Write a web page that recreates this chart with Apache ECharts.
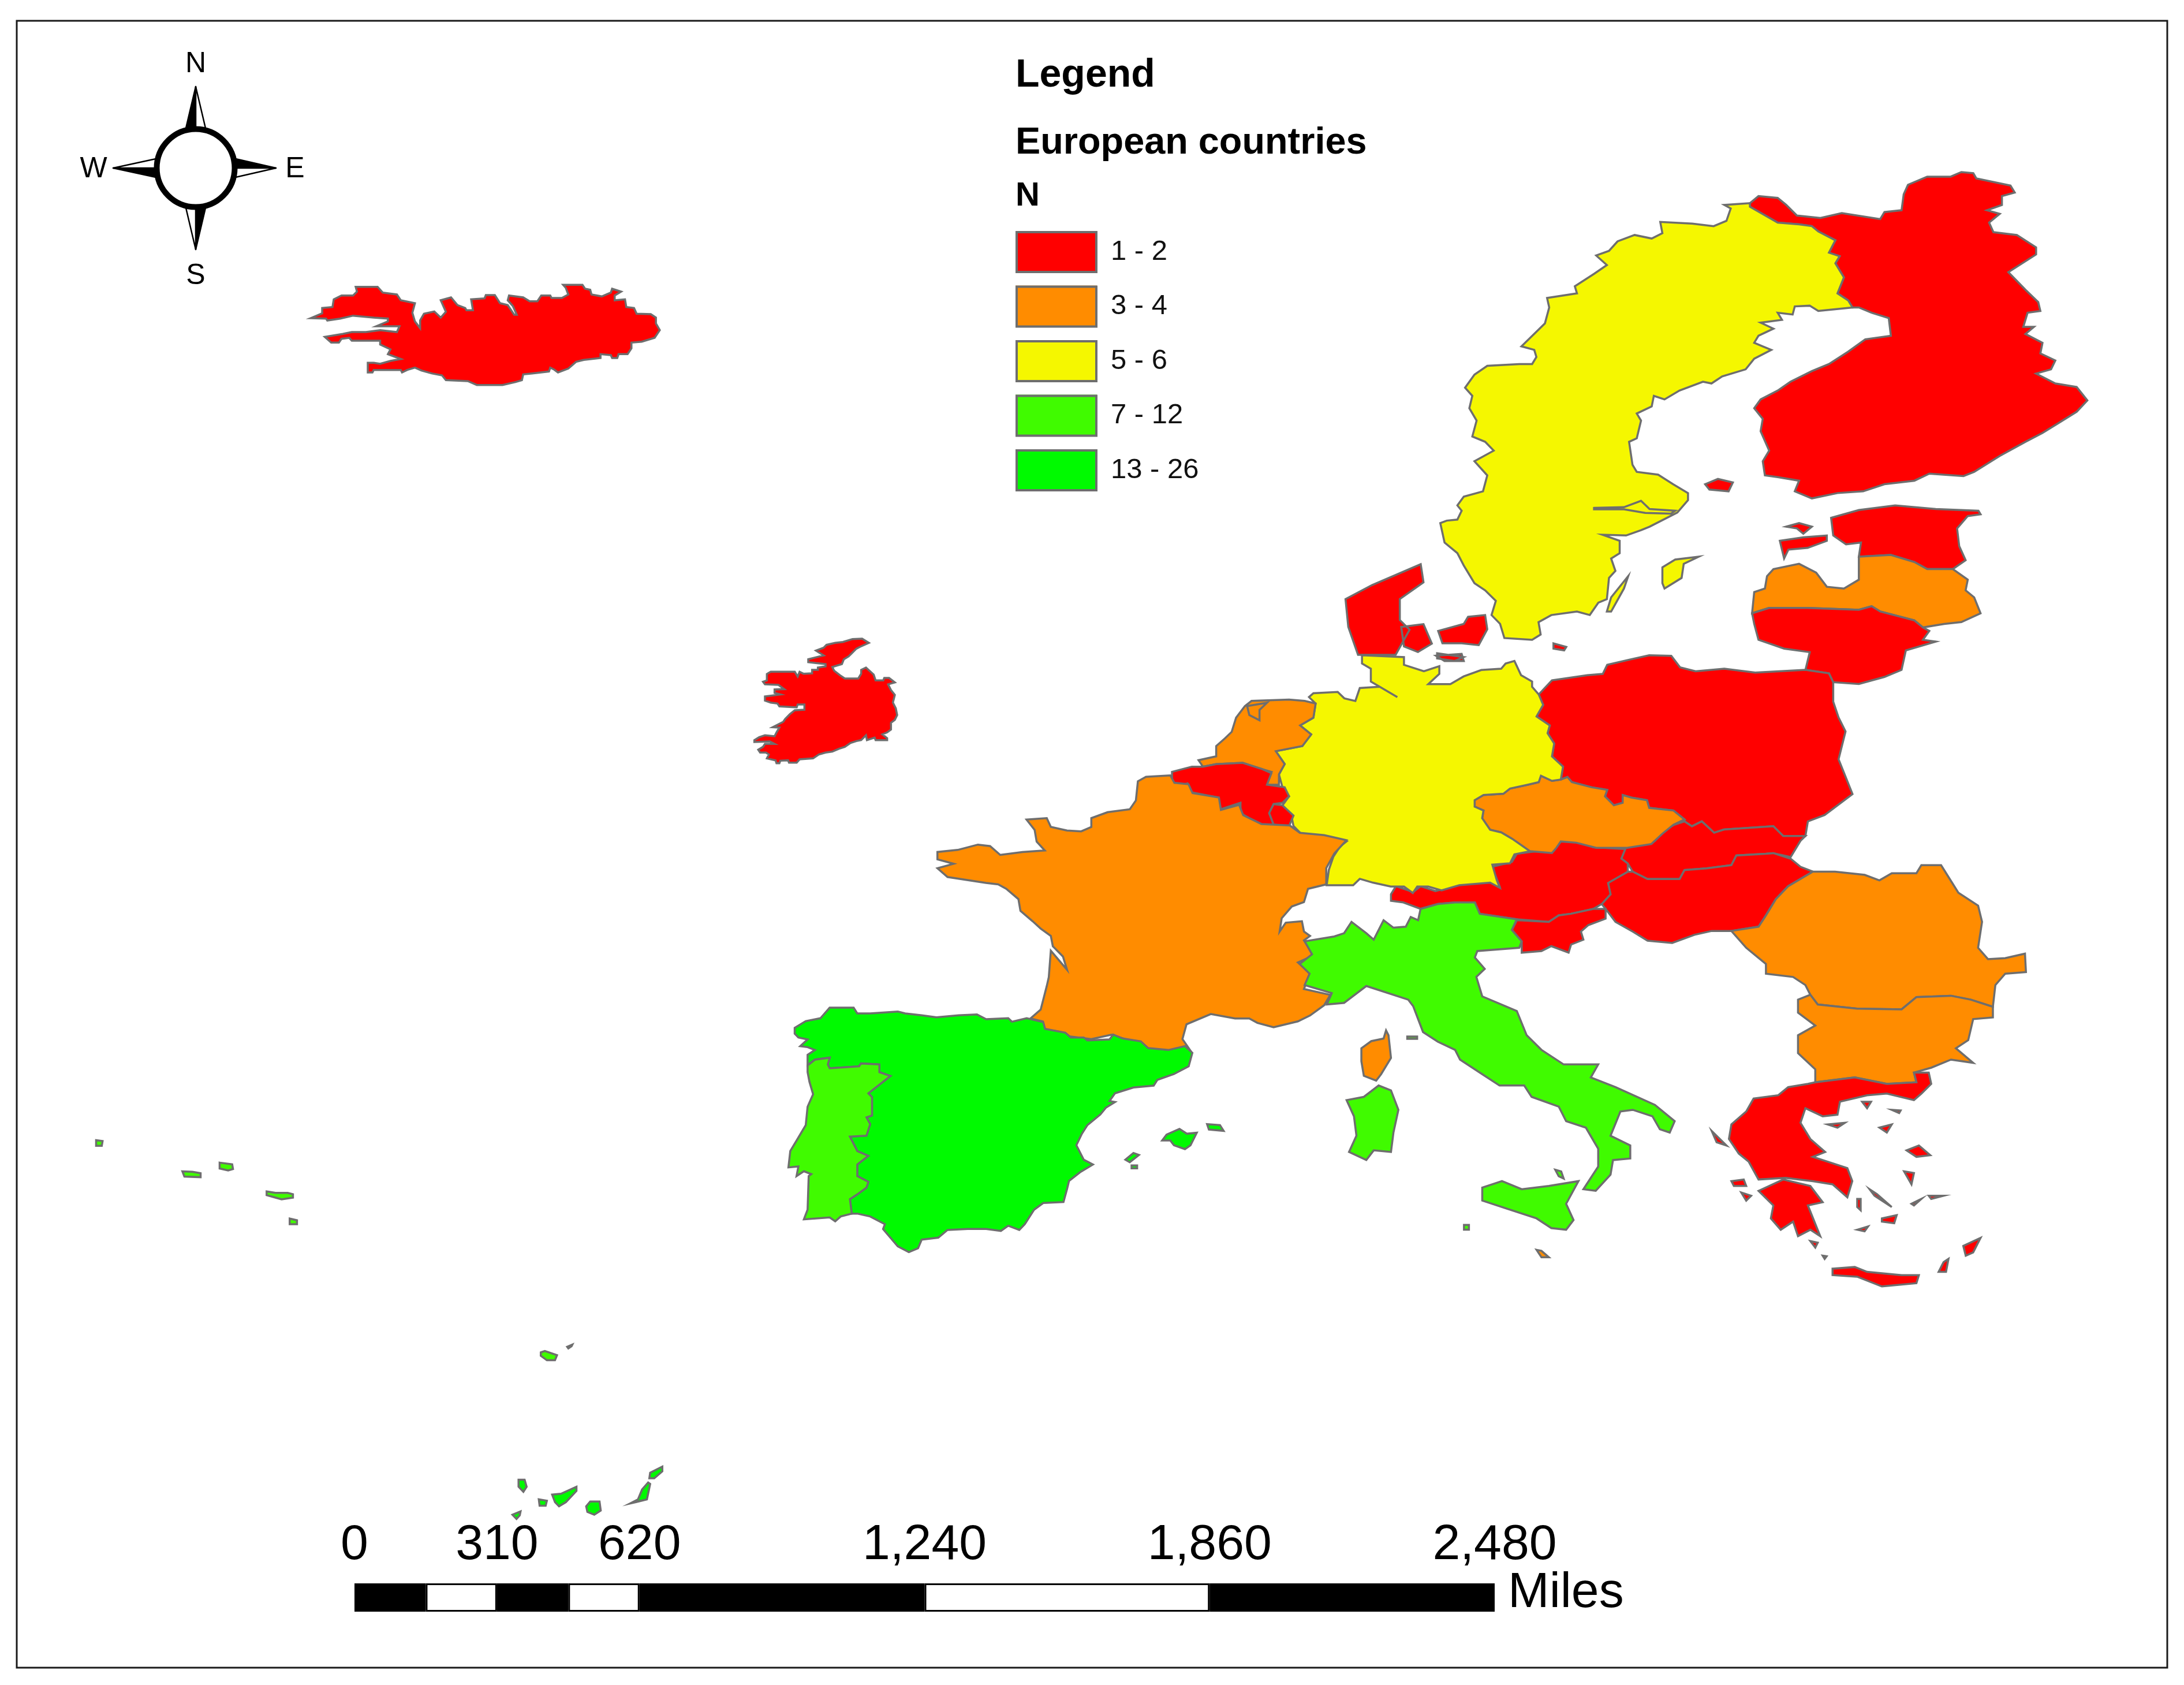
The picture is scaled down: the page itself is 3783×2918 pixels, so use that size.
<!DOCTYPE html>
<html lang="en">

<head>
    <meta charset="UTF-8">
    <title>European countries</title>
    <style>
        html, body { margin: 0; padding: 0; background: #fff; }
        #box { width: 3783px; height: 2918px; }
    </style>
    <script src="https://cdn.jsdelivr.net/npm/echarts@6/dist/echarts.min.js"></script>
</head>

<body>
    <div id="box"></div>
    <script>
        const countries = ['Iceland', 'Ireland', 'Finland', 'Sweden', 'Estonia', 'Latvia', 'Lithuania', 'Poland', 'Slovakia',
            'Hungary', 'Austria', 'Slovenia', 'Czech Republic', 'Germany', 'Netherlands', 'Belgium', 'Luxembourg', 'France',
            'Spain', 'Portugal', 'Italy', 'Romania', 'Bulgaria', 'Greece', 'Denmark', 'Malta'];
        const nValues = [1, 1, 2, 5, 1, 3, 1, 2, 1, 2, 2, 1, 3, 6, 3, 2, 1, 4, 20, 9, 10, 4, 3, 2, 2, 3];

        // legend classes
        const classLabels = ['1 - 2', '3 - 4', '5 - 6', '7 - 12', '13 - 26'];
        const classMin = [1, 3, 5, 7, 13];
        const classMax = [2, 4, 6, 12, 26];
        const classColors = ['#ff0000', '#ff8c00', '#f5f700', '#40fb00', '#00fa00'];

        // scale bar, miles
        const scaleSegments = [155, 155, 155, 155, 620, 620, 620];
        const scaleTicks = [0, 310, 620, 1240, 1860, 2480];

        // outlines were traced on crops of the picture, each crop has its own grid
        function crop(x, y, w, h, pts) {
            const sx = Math.min(3, 1568 / w), sy = Math.min(3, 1568 / h);
            return pts.map(p => [x + p[0] / sx, y + p[1] / sy]);
        }
        const ice = p => crop(500, 450, 700, 240, p);
        const ire = p => crop(1270, 1080, 320, 280, p);
        const nor = p => crop(2480, 260, 1160, 960, p);
        const mid = p => crop(1900, 1100, 1200, 700, p);
        const wes = p => crop(1280, 1080, 1100, 800, p);
        const ibe = p => crop(1300, 1700, 1000, 520, p);
        const sou = p => crop(2200, 1400, 1340, 880, p);
        const atl = p => crop(130, 1930, 1100, 760, p);
        const whole = p => p.map(q => [q[0] * 3783 / 1568, q[1] * 3783 / 1568]);

        const outlines = {
            'Iceland': [ice([[85, 303], [130, 278], [130, 250], [170, 245], [175, 205], [205, 185], [250, 185], [265, 165], [260, 140], [345, 140], [365, 170], [420, 180], [435, 210], [490, 225], [480, 275], [490, 320], [510, 355], [510, 315], [525, 280], [565, 268], [590, 300], [610, 270], [590, 210], [630, 195], [655, 235], [685, 250], [690, 262], [715, 262], [708, 205], [760, 200], [765, 183], [800, 183], [820, 225], [850, 235], [875, 285], [885, 285], [870, 240], [850, 210], [855, 185], [910, 195], [935, 215], [965, 215], [980, 185], [1015, 185], [1020, 198], [1060, 198], [1085, 180], [1075, 145], [1065, 130], [1140, 130], [1150, 150], [1170, 155], [1175, 180], [1215, 190], [1250, 170], [1255, 150], [1290, 165], [1265, 185], [1265, 210], [1305, 205], [1310, 245], [1340, 250], [1350, 280], [1405, 282], [1425, 300], [1425, 330], [1440, 365], [1420, 405], [1370, 425], [1330, 430], [1330, 460], [1315, 490], [1280, 490], [1275, 510], [1255, 510], [1250, 495], [1210, 490], [1210, 510], [1145, 520], [1115, 530], [1085, 565], [1045, 585], [1030, 570], [1015, 560], [1010, 580], [945, 590], [910, 595], [905, 625], [880, 635], [830, 650], [730, 650], [695, 630], [610, 625], [595, 600], [555, 590], [515, 575], [490, 560], [460, 572], [440, 585], [435, 572], [330, 572], [325, 585], [307, 585], [307, 535], [330, 535], [355, 540], [395, 525], [435, 515], [395, 495], [385, 490], [395, 465], [355, 440], [355, 420], [340, 420], [245, 420], [235, 405], [205, 410], [195, 430], [165, 430], [140, 400], [210, 385], [245, 375], [300, 375], [355, 365], [420, 375], [430, 345], [340, 345], [385, 320], [385, 305], [330, 300], [250, 290], [200, 305], [150, 315], [145, 305]])],
            'Ireland': [ire([[110, 605], [135, 590], [165, 580], [215, 585], [225, 565], [240, 540], [205, 538], [260, 510], [270, 495], [295, 470], [320, 450], [370, 447], [370, 420], [335, 420], [330, 435], [240, 430], [230, 415], [195, 410], [165, 400], [165, 378], [245, 368], [215, 360], [215, 342], [265, 340], [235, 318], [165, 315], [155, 302], [175, 295], [175, 262], [195, 250], [320, 250], [335, 275], [345, 250], [365, 260], [410, 258], [410, 240], [440, 240], [440, 228], [480, 222], [480, 210], [430, 205], [390, 200], [390, 185], [450, 170], [470, 165], [430, 140], [470, 125], [485, 110], [530, 100], [570, 95], [620, 80], [670, 78], [705, 100], [660, 120], [640, 130], [620, 150], [600, 170], [575, 185], [565, 210], [515, 225], [525, 245], [555, 268], [580, 285], [650, 285], [665, 260], [665, 240], [690, 228], [730, 265], [740, 295], [780, 295], [785, 282], [810, 282], [840, 305], [805, 315], [820, 345], [840, 370], [830, 410], [845, 440], [852, 475], [840, 500], [820, 515], [820, 550], [800, 565], [775, 575], [800, 595], [800, 605], [740, 605], [735, 592], [695, 605], [690, 580], [665, 605], [640, 610], [610, 620], [580, 640], [550, 650], [515, 665], [480, 670], [445, 680], [415, 700], [345, 705], [330, 722], [290, 722], [285, 710], [245, 712], [240, 725], [225, 725], [220, 710], [175, 700], [185, 680], [170, 670], [140, 670], [130, 655], [155, 640], [165, 625], [215, 625], [190, 612], [110, 615]])],
            'Finland': [nor([[745, 150], [765, 130], [810, 135], [830, 155], [855, 185], [910, 192], [960, 178], [1050, 195], [1060, 175], [1100, 170], [1105, 125], [1115, 98], [1160, 75], [1215, 75], [1240, 62], [1268, 65], [1275, 80], [1355, 100], [1365, 120], [1335, 130], [1335, 155], [1300, 170], [1330, 180], [1305, 205], [1315, 232], [1370, 240], [1415, 275], [1415, 295], [1350, 345], [1390, 395], [1420, 430], [1425, 455], [1395, 460], [1385, 500], [1410, 500], [1390, 520], [1430, 545], [1425, 575], [1460, 595], [1450, 620], [1415, 632], [1460, 660], [1510, 670], [1535, 708], [1510, 740], [1470, 770], [1430, 800], [1390, 825], [1330, 865], [1270, 910], [1245, 922], [1165, 915], [1130, 935], [1060, 945], [1010, 965], [950, 970], [890, 985], [850, 965], [860, 935], [810, 925], [780, 920], [775, 880], [790, 850], [770, 795], [775, 760], [755, 730], [770, 705], [810, 680], [840, 655], [890, 625], [930, 605], [975, 570], [1015, 535], [1075, 525], [1070, 475], [1030, 460], [1000, 445], [985, 445], [975, 425], [950, 405], [965, 360], [945, 320], [955, 300], [930, 290], [945, 255], [905, 230], [890, 215], [860, 210], [810, 205], [745, 160]]),
                nor([[640, 945], [670, 930], [705, 940], [695, 965], [650, 960]])],
            'Sweden': [nor([[745, 160], [810, 205], [860, 210], [890, 215], [905, 230], [945, 255], [930, 290], [955, 300], [945, 320], [965, 360], [950, 405], [975, 425], [985, 445], [945, 450], [905, 455], [885, 440], [850, 442], [845, 465], [810, 460], [820, 480], [770, 488], [800, 505], [765, 525], [755, 545], [775, 555], [795, 565], [755, 590], [735, 620], [680, 640], [655, 660], [635, 655], [580, 680], [545, 705], [520, 695], [515, 725], [480, 745], [490, 765], [480, 815], [462, 825], [470, 890], [480, 910], [530, 918], [565, 945], [600, 970], [600, 990], [575, 1025], [510, 1065], [490, 1075], [455, 1090], [400, 1088], [440, 1105], [440, 1140], [420, 1155], [430, 1190], [415, 1210], [410, 1270], [390, 1280], [370, 1315], [340, 1305], [280, 1315], [250, 1335], [255, 1370], [235, 1385], [170, 1380], [160, 1340], [140, 1315], [150, 1275], [125, 1245], [100, 1225], [75, 1175], [60, 1140], [30, 1110], [20, 1055], [35, 1048], [60, 1045], [70, 1020], [60, 1005], [75, 980], [120, 965], [130, 920], [100, 880], [145, 850], [125, 825], [95, 810], [105, 765], [88, 730], [95, 695], [78, 672], [100, 635], [130, 610], [205, 605], [235, 605], [245, 585], [240, 565], [210, 555], [265, 490], [275, 445], [270, 418], [340, 405], [335, 385], [380, 350], [410, 325], [385, 298], [415, 285], [435, 258], [475, 240], [515, 250], [540, 235], [535, 203], [610, 208], [660, 215], [690, 200], [700, 165], [685, 155], [745, 150]]),
                nor([[380, 1012], [450, 1010], [490, 992], [510, 1015], [570, 1020], [560, 1028], [500, 1026], [450, 1016], [380, 1016]]),
                nor([[540, 1180], [570, 1158], [625, 1150], [590, 1170], [585, 1210], [545, 1240], [540, 1225]]),
                nor([[410, 1305], [420, 1265], [460, 1205], [450, 1240], [420, 1305]])],
            'Estonia': [nor([[935, 1040], [1000, 1018], [1085, 1005], [1180, 1015], [1280, 1020], [1285, 1030], [1255, 1035], [1230, 1070], [1235, 1120], [1250, 1160], [1220, 1185], [1160, 1185], [1130, 1165], [1075, 1145], [1000, 1150], [1005, 1110], [970, 1115], [940, 1090]]),
                nor([[815, 1105], [870, 1095], [925, 1090], [925, 1105], [880, 1125], [835, 1130], [825, 1155], [820, 1130]]),
                nor([[830, 1065], [860, 1055], [890, 1065], [870, 1085], [855, 1070]])],
            'Latvia': [nor([[750, 1310], [755, 1250], [780, 1240], [785, 1205], [800, 1185], [860, 1170], [900, 1195], [925, 1235], [965, 1240], [1000, 1215], [1000, 1150], [1075, 1145], [1130, 1165], [1160, 1185], [1220, 1185], [1255, 1215], [1250, 1245], [1270, 1265], [1285, 1310], [1240, 1335], [1200, 1340], [1150, 1350], [1130, 1330], [1050, 1305], [1030, 1290], [1000, 1300], [880, 1295], [790, 1295]])],
            'Lithuania': [nor([[750, 1310], [790, 1295], [880, 1295], [1000, 1300], [1030, 1290], [1050, 1305], [1130, 1330], [1150, 1350], [1165, 1360], [1150, 1385], [1180, 1390], [1110, 1415], [1100, 1470], [1060, 1490], [1000, 1510], [940, 1505], [930, 1480], [875, 1470], [885, 1420], [825, 1410], [765, 1385], [755, 1340]])],
            'Poland': [[...mid([[1000, 230], [1030, 175], [1110, 155], [1145, 150], [1155, 115], [1205, 95], [1250, 78], [1300, 80], [1320, 125], [1355, 140], [1420, 130], [1490, 145]]),
                ...nor([[875, 1470], [930, 1480], [940, 1505], [940, 1560]]),
                ...whole([[1320, 515], [1325, 525], [1320, 545], [1330, 570], [1310, 585]]),
                ...sou([[1090, 40], [1085, 85], [1040, 85], [1020, 55], [920, 65], [900, 75], [875, 40], [855, 55], [840, 40]]),
                ...mid([[1330, 715], [1305, 680], [1250, 670], [1245, 640], [1210, 630], [1190, 620], [1190, 650], [1170, 660], [1150, 625], [1155, 600], [1120, 590], [1075, 570], [1065, 550], [1050, 560], [1055, 510], [1030, 470], [1035, 420], [1020, 380], [1025, 350], [995, 315], [1010, 270]])]],
            'Slovakia': [sou([[715, 130], [725, 115], [780, 100], [795, 70], [820, 50], [840, 40], [855, 55], [875, 40], [900, 75], [920, 65], [1020, 55], [1040, 85], [1085, 85], [1075, 100], [1055, 150], [1020, 138], [1005, 140], [945, 145], [935, 175], [885, 185], [840, 190], [830, 218], [765, 218], [735, 195], [725, 170], [712, 155]])],
            'Hungary': [sou([[725, 195], [735, 195], [765, 218], [830, 218], [840, 190], [885, 185], [935, 175], [945, 145], [1005, 140], [1020, 138], [1055, 155], [1075, 180], [1100, 195], [1050, 240], [1025, 280], [1005, 330], [990, 365], [935, 378], [895, 378], [860, 390], [815, 415], [765, 408], [735, 380], [700, 350], [680, 310], [672, 295], [690, 265], [685, 230]])],
            'Austria': [sou([[245, 265], [255, 240], [290, 258], [305, 240], [335, 255], [390, 232], [445, 228], [465, 240], [450, 180], [490, 165], [500, 140], [575, 125], [590, 100], [620, 100], [655, 120], [720, 125], [712, 155], [725, 170], [725, 195], [685, 230], [690, 265], [672, 295], [655, 310], [610, 325], [585, 330], [565, 350], [500, 342], [425, 325], [415, 290], [375, 290], [340, 295], [305, 310], [270, 290], [245, 285]])],
            'Slovenia': [sou([[500, 345], [565, 350], [585, 330], [610, 325], [655, 310], [680, 310], [680, 340], [645, 360], [630, 380], [635, 405], [610, 420], [605, 445], [570, 425], [550, 440], [510, 445], [510, 410], [490, 375]])],
            'Czech Republic': [mid([[855, 640], [875, 620], [920, 615], [935, 595], [975, 580], [1000, 570], [1005, 545], [1030, 565], [1050, 560], [1065, 550], [1075, 570], [1120, 590], [1155, 600], [1150, 625], [1170, 660], [1190, 650], [1190, 620], [1210, 630], [1245, 640], [1250, 670], [1305, 680], [1330, 715], [1305, 735], [1280, 770], [1255, 810], [1200, 825], [1130, 825], [1085, 805], [1050, 800], [1040, 825], [1030, 845], [980, 838], [940, 790], [915, 765], [890, 755], [872, 710], [875, 680], [855, 665]])],
            'Germany': [mid([[600, 78], [695, 85], [695, 115], [740, 140], [775, 120], [775, 150], [750, 190], [800, 190], [830, 160], [870, 135], [915, 130], [925, 110], [945, 100], [960, 155], [985, 180], [985, 200], [1000, 230], [1010, 270], [995, 315], [1025, 350], [1020, 380], [1035, 420], [1030, 470], [1055, 510], [1050, 560], [1030, 565], [1005, 545], [1000, 570], [975, 580], [935, 595], [920, 615], [875, 620], [855, 640], [855, 665], [875, 680], [872, 710], [890, 755], [915, 765], [940, 790], [980, 838], [945, 850], [935, 885], [895, 890], [905, 950], [912, 980], [890, 960], [820, 970], [780, 990], [750, 975], [725, 975], [715, 1000], [695, 975], [665, 975], [625, 960], [595, 945], [580, 970], [520, 970], [525, 910], [535, 860], [550, 820], [565, 800], [520, 780], [465, 775], [445, 740], [440, 700], [420, 660], [435, 625], [420, 590], [412, 540], [425, 500], [405, 450], [465, 430], [485, 385], [460, 350], [490, 320], [495, 265], [480, 240], [490, 225], [545, 220], [560, 245], [585, 255], [595, 205], [640, 200], [680, 240], [650, 210], [620, 180], [620, 130], [600, 110]])],
            'Netherlands': [mid([[305, 375], [315, 320], [335, 275], [350, 255], [435, 250], [470, 255], [495, 265], [490, 320], [460, 350], [485, 385], [465, 430], [405, 450], [425, 500], [412, 540], [412, 580], [385, 580], [385, 550], [395, 530], [375, 520], [330, 495], [270, 500], [240, 510], [230, 485], [270, 470], [270, 430], [290, 400]])],
            'Belgium': [mid([[170, 530], [215, 510], [240, 510], [270, 500], [330, 495], [375, 520], [395, 535], [385, 580], [425, 590], [435, 625], [420, 650], [400, 655], [390, 690], [400, 735], [370, 735], [325, 690], [325, 650], [280, 675], [275, 630], [215, 610], [205, 575], [185, 585], [170, 570]])],
            'Luxembourg': [mid([[400, 655], [420, 660], [445, 700], [435, 740], [400, 735], [390, 690]])],
            'France': [wes([[985, 535], [1005, 520], [1065, 515], [1075, 540], [1110, 545], [1120, 575], [1185, 590], [1190, 632], [1235, 615], [1245, 650], [1290, 680], [1360, 685], [1385, 710], [1445, 718], [1500, 735], [1470, 780], [1450, 830], [1450, 885], [1405, 900], [1395, 945], [1365, 960], [1340, 1000], [1335, 1045], [1350, 1015], [1390, 1010], [1395, 1045], [1410, 1060], [1395, 1075], [1420, 1125], [1380, 1150], [1410, 1185], [1395, 1240], [1460, 1260], [1445, 1295], [1410, 1330], [1380, 1350], [1320, 1370], [1280, 1355], [1260, 1340], [1225, 1340], [1165, 1325], [1105, 1360], [1095, 1410], [1115, 1450], [1060, 1450], [1015, 1445], [975, 1420], [920, 1395], [870, 1410], [810, 1400], [790, 1385], [750, 1375], [750, 1350], [720, 1340], [745, 1310], [760, 1230], [765, 1200], [770, 1110], [810, 1175], [800, 1130], [775, 1095], [770, 1060], [745, 1035], [725, 1010], [695, 975], [690, 935], [660, 900], [640, 885], [610, 880], [515, 860], [490, 830], [530, 815], [490, 800], [490, 775], [540, 768], [590, 750], [620, 755], [645, 785], [700, 775], [755, 770], [735, 740], [730, 700], [710, 665], [760, 660], [770, 690], [810, 702], [845, 705], [870, 690], [870, 660], [910, 640], [965, 630], [980, 600]]),
                sou([[185, 740], [205, 718], [230, 710], [235, 685], [240, 700], [245, 770], [225, 820], [215, 840], [190, 825], [185, 780]])],
            'Spain': [ibe([[120, 240], [150, 205], [190, 190], [215, 135], [280, 135], [290, 165], [325, 165], [400, 155], [420, 165], [465, 175], [505, 185], [565, 175], [615, 170], [640, 195], [700, 190], [710, 208], [750, 190], [795, 210], [800, 245], [855, 265], [870, 290], [905, 290], [915, 305], [975, 300], [985, 275], [1010, 295], [1060, 310], [1080, 345], [1135, 355], [1180, 335], [1200, 370], [1190, 440], [1150, 480], [1105, 510], [1095, 540], [1040, 550], [990, 580], [975, 620], [990, 625], [965, 655], [950, 690], [915, 745], [900, 790], [885, 850], [905, 925], [930, 950], [895, 990], [865, 1035], [860, 1075], [850, 1145], [795, 1150], [770, 1185], [745, 1260], [730, 1290], [700, 1268], [680, 1295], [640, 1285], [590, 1285], [535, 1290], [510, 1330], [465, 1340], [455, 1385], [430, 1405], [400, 1375], [380, 1330], [360, 1285], [365, 1260], [325, 1220], [290, 1205], [275, 1205], [270, 1130], [290, 1105], [315, 1070], [320, 1040], [290, 1010], [290, 950], [320, 905], [290, 880], [270, 805], [315, 800], [325, 740], [315, 705], [330, 695], [330, 600], [320, 580], [350, 535], [380, 490], [350, 470], [350, 430], [300, 425], [295, 440], [215, 450], [210, 430], [215, 395], [175, 405], [155, 435], [155, 380], [175, 355], [155, 340], [135, 335], [155, 300], [130, 290], [120, 270]]),
                ibe([[1118, 825], [1130, 795], [1165, 765], [1185, 790], [1212, 785], [1195, 850], [1180, 870], [1150, 850], [1140, 825]]),
                ibe([[1240, 740], [1275, 745], [1285, 775], [1245, 768]]),
                ibe([[1018, 925], [1040, 890], [1055, 900], [1030, 938]]),
                ibe([[1035, 955], [1050, 955], [1050, 970], [1035, 970]]),
                atl([[1095, 1305], [1110, 1305], [1115, 1330], [1107, 1348], [1095, 1330]]),
                atl([[1145, 1375], [1165, 1380], [1162, 1398], [1147, 1398]]),
                atl([[1178, 1358], [1200, 1355], [1238, 1330], [1238, 1345], [1212, 1385], [1195, 1400], [1185, 1385]]),
                atl([[1262, 1400], [1272, 1383], [1295, 1383], [1298, 1415], [1282, 1430], [1265, 1420]]),
                atl([[1370, 1390], [1390, 1375], [1400, 1340], [1415, 1315], [1420, 1320], [1412, 1375], [1385, 1385]]),
                atl([[1418, 1300], [1420, 1280], [1450, 1258], [1450, 1275], [1430, 1300]]),
                atl([[1080, 1430], [1100, 1418], [1098, 1432], [1090, 1445]])],
            'Portugal': [ibe([[155, 435], [175, 405], [215, 395], [210, 430], [215, 450], [295, 440], [300, 425], [350, 430], [350, 470], [380, 490], [350, 535], [320, 580], [330, 600], [330, 695], [315, 705], [325, 740], [315, 800], [270, 805], [290, 880], [320, 905], [290, 950], [290, 1010], [320, 1040], [315, 1070], [290, 1105], [270, 1130], [275, 1205], [245, 1220], [230, 1245], [215, 1225], [145, 1235], [155, 1185], [158, 1010], [165, 1000], [145, 985], [125, 1010], [130, 960], [103, 965], [108, 880], [130, 810], [150, 745], [155, 650], [170, 585], [160, 520], [155, 470]]),
                atl([[52, 92], [68, 95], [66, 112], [52, 112]]),
                atl([[265, 203], [290, 205], [310, 210], [310, 224], [270, 222]]),
                atl([[357, 172], [388, 178], [390, 195], [378, 200], [357, 193]]),
                atl([[473, 275], [495, 280], [525, 280], [538, 285], [538, 297], [510, 303], [490, 295], [473, 288]]),
                atl([[530, 372], [548, 378], [548, 392], [530, 392]]),
                atl([[1150, 850], [1160, 845], [1190, 860], [1185, 878], [1165, 878], [1150, 862]]),
                atl([[1215, 830], [1228, 822], [1226, 828], [1218, 836]])],
            'Italy': [sou([[70, 410], [130, 395], [150, 385], [165, 350], [195, 385], [210, 405], [230, 345], [250, 368], [275, 365], [285, 335], [300, 345], [305, 310], [340, 295], [375, 290], [415, 290], [425, 325], [500, 342], [490, 375], [510, 410], [505, 430], [420, 440], [415, 460], [435, 495], [418, 520], [430, 580], [500, 625], [520, 700], [550, 745], [595, 790], [665, 790], [650, 830], [700, 860], [780, 915], [820, 965], [810, 1000], [790, 990], [775, 950], [735, 930], [710, 935], [690, 1010], [730, 1040], [730, 1080], [695, 1085], [690, 1130], [660, 1180], [635, 1175], [665, 1105], [665, 1050], [640, 985], [600, 965], [585, 920], [530, 890], [515, 855], [465, 855], [430, 820], [385, 775], [375, 745], [340, 720], [310, 690], [290, 610], [280, 590], [195, 548], [150, 600], [115, 605], [125, 570], [70, 545], [80, 510], [60, 480], [85, 450]]),
                sou([[430, 1170], [470, 1150], [510, 1175], [565, 1165], [625, 1150], [600, 1220], [615, 1270], [600, 1300], [570, 1295], [540, 1265], [480, 1235], [430, 1210]]),
                sou([[155, 900], [190, 890], [220, 855], [245, 870], [260, 930], [250, 1000], [245, 1060], [210, 1055], [195, 1085], [160, 1060], [175, 1010], [170, 950]]),
                sou([[278, 704], [298, 704], [298, 711], [278, 711]]),
                sou([[578, 1115], [590, 1120], [595, 1142], [585, 1135]]),
                sou([[393, 1285], [403, 1285], [403, 1300], [393, 1300]])],
            'Romania': [sou([[1100, 195], [1145, 195], [1205, 205], [1235, 222], [1260, 200], [1310, 200], [1320, 175], [1360, 175], [1395, 260], [1435, 300], [1443, 350], [1435, 430], [1455, 465], [1490, 462], [1530, 448], [1532, 505], [1490, 510], [1470, 545], [1465, 612], [1420, 590], [1380, 578], [1310, 582], [1280, 620], [1190, 618], [1110, 605], [1095, 575], [1085, 545], [1060, 520], [1005, 510], [1005, 480], [965, 430], [935, 378], [990, 365], [1005, 330], [1025, 280], [1050, 240]])],
            'Bulgaria': [sou([[1095, 575], [1110, 605], [1190, 618], [1280, 620], [1310, 582], [1380, 578], [1420, 590], [1465, 612], [1465, 645], [1425, 650], [1415, 715], [1390, 740], [1425, 785], [1380, 775], [1340, 800], [1305, 815], [1310, 845], [1250, 850], [1185, 830], [1105, 845], [1105, 805], [1070, 755], [1070, 700], [1105, 670], [1070, 630], [1070, 590]])],
            'Greece': [sou([[1090, 850], [1105, 845], [1185, 830], [1250, 850], [1310, 845], [1305, 815], [1335, 815], [1340, 850], [1320, 880], [1305, 900], [1250, 880], [1210, 885], [1155, 905], [1150, 945], [1120, 950], [1085, 925], [1075, 970], [1095, 1020], [1125, 1060], [1100, 1075], [1170, 1110], [1180, 1150], [1170, 1200], [1140, 1160], [1100, 1150], [1045, 1140], [990, 1145], [970, 1090], [950, 1065], [930, 1020], [935, 975], [965, 935], [980, 895], [1030, 885], [1050, 860]]),
                sou([[990, 1180], [1040, 1145], [1095, 1165], [1120, 1215], [1090, 1225], [1115, 1320], [1095, 1300], [1070, 1320], [1060, 1275], [1035, 1300], [1015, 1265], [1020, 1225]]),
                sou([[1140, 1420], [1185, 1415], [1210, 1430], [1280, 1440], [1315, 1440], [1310, 1465], [1240, 1475], [1190, 1445], [1140, 1440]]),
                sou([[1405, 1350], [1440, 1325], [1425, 1370], [1410, 1380]]),
                sou([[1290, 1055], [1315, 1040], [1338, 1070], [1310, 1075]]),
                sou([[1285, 1120], [1305, 1125], [1300, 1160]]),
                sou([[1300, 1220], [1320, 1205], [1305, 1225]]),
                sou([[1200, 905], [1218, 905], [1210, 925]]),
                sou([[1235, 985], [1260, 975], [1250, 1000]]),
                sou([[935, 1150], [960, 1145], [965, 1165], [940, 1165]]),
                sou([[955, 1185], [975, 1195], [965, 1210]]),
                sou([[895, 995], [925, 1040], [905, 1030]]),
                sou([[1240, 1265], [1270, 1255], [1265, 1280], [1240, 1275]]),
                sou([[1095, 1335], [1110, 1340], [1105, 1355]]),
                sou([[1335, 1195], [1365, 1195], [1340, 1205]]),
                sou([[1365, 1400], [1375, 1390], [1370, 1430], [1355, 1430]]),
                sou([[1215, 1175], [1230, 1190], [1260, 1230], [1225, 1195]]),
                sou([[1260, 930], [1278, 932], [1275, 940]]),
                sou([[1130, 975], [1165, 970], [1150, 985]]),
                sou([[1190, 1205], [1197, 1205], [1197, 1240], [1190, 1230]]),
                sou([[1190, 1300], [1212, 1290], [1205, 1305]]),
                sou([[1120, 1380], [1128, 1382], [1124, 1390]])],
            'Denmark': [whole([[966, 430], [985, 420], [1020, 405], [1022, 418], [1005, 430], [1005, 445], [1012, 452], [1002, 470], [975, 470], [968, 450]]),
                nor([[15, 1360], [75, 1340], [85, 1320], [125, 1315], [130, 1355], [110, 1400], [70, 1395], [25, 1395]]),
                nor([[10, 1430], [70, 1425], [75, 1445], [30, 1445]]),
                nor([[285, 1395], [315, 1405], [310, 1415], [285, 1410]]),
                whole([[1006, 450], [1022, 448], [1028, 462], [1018, 468], [1008, 464]]),
                mid([[770, 70], [830, 85], [810, 100], [770, 90]])],
            'Malta': [sou([[540, 1362], [550, 1365], [565, 1385], [550, 1385]])]
        };

        // lakes cut out of the first polygon of a country
        const holes = {
            'Netherlands': mid([[340, 275], [385, 262], [368, 290], [368, 330], [345, 310]])
        };

        // outline -> geojson, rings closed
        const closeRing = ring => [...ring, ring[0]];
        const geoJson = {
            type: 'FeatureCollection',
            features: countries.map(name => ({
                type: 'Feature',
                properties: { name: name },
                geometry: {
                    type: 'MultiPolygon',
                    coordinates: outlines[name].map((ring, i) =>
                        i === 0 && holes[name] ? [closeRing(ring), closeRing(holes[name])] : [closeRing(ring)])
                }
            }))
        };
        echarts.registerMap('europe', geoJson);

        const chart = echarts.init(document.getElementById('box'));
        const black = '#000';
        const textFont = '"Liberation Sans", Arial, sans-serif';

        // y is the baseline
        function label(text, x, y, size, weight, align) {
            return {
                type: 'text', x: x, y: y - size * 0.82, z: 10,
                style: { text: text, fill: black, font: (weight || 'normal') + ' ' + size + 'px ' + textFont, align: align || 'left', verticalAlign: 'top' }
            };
        }
        function ray(a, b, c, fill) {
            return { type: 'polygon', z: 8, shape: { points: [a, b, c] }, style: { fill: fill, stroke: black, lineWidth: 2.5, lineJoin: 'round' } };
        }

        // legend swatch outlines, the visualMap only draws the fill
        const swatchBorders = classLabels.map((c, i) => ({
            type: 'rect', z: 10,
            shape: { x: 1761, y: 402 + i * 94.5, width: 138, height: 69 },
            style: { fill: 'none', stroke: '#6e6e6e', lineWidth: 4 }
        }));

        const option = {
            animation: false,
            backgroundColor: '#fff',
            visualMap: {
                type: 'piecewise', seriesIndex: 0, left: 1759, top: 400, padding: 0, inverse: true,
                itemWidth: 141, itemHeight: 72, itemGap: 22.5, textGap: 24, itemSymbol: 'rect',
                selectedMode: false, hoverLink: false, orient: 'vertical',
                pieces: classLabels.map((l, i) => ({ min: classMin[i], max: classMax[i], label: l, color: classColors[i] })),
                textStyle: { fontFamily: textFont, fontSize: 49, color: '#111' }
            },
            grid: { left: 614, top: 2742, width: 1975, height: 49, containLabel: false },
            xAxis: {
                type: 'value', position: 'top', min: 0, max: 2480,
                axisLine: { show: false }, axisTick: { show: false }, splitLine: { show: false },
                axisLabel: {
                    customValues: scaleTicks, margin: 23, fontFamily: textFont, fontSize: 86, color: black,
                    formatter: v => v.toLocaleString('en-US')
                }
            },
            yAxis: { type: 'category', data: ['scale'], show: false },
            series: [{
                type: 'map', map: 'europe', silent: true,
                projection: { project: p => p, unproject: p => p },
                boundingCoords: [[0, 0], [3783, 2918]],
                layoutCenter: [1891.5, 1459], layoutSize: 3783,
                label: { show: false }, emphasis: { disabled: true },
                itemStyle: { borderColor: '#6e6e6e', borderWidth: 3.5 },
                data: countries.map((c, i) => ({ name: c, value: nValues[i] }))
            }].concat(scaleSegments.map((s, i) => ({
                type: 'bar', stack: 'scale', barWidth: '100%', silent: true,
                itemStyle: { color: i % 2 ? '#fff' : black, borderColor: black, borderWidth: i % 2 ? 3 : 0 },
                data: [s]
            }))),
            graphic: [
                { type: 'rect', z: 0, shape: { x: 29, y: 36, width: 3725, height: 2852 }, style: { fill: 'none', stroke: '#1a1a1a', lineWidth: 3 } },
                label('Legend', 1759, 153, 68, 'bold'),
                label('European countries', 1759, 269, 64.8, 'bold'),
                label('N', 1759, 359, 58, 'bold'),
                label('Miles', 2612, 2787, 86),
                // compass
                ray([339, 150], [322, 222], [339, 222], black), ray([339, 150], [356, 222], [339, 222], '#fff'),
                ray([339, 432], [356, 360], [339, 360], black), ray([339, 432], [322, 360], [339, 360], '#fff'),
                ray([478, 291], [408, 275], [408, 291], black), ray([478, 291], [408, 307], [408, 291], '#fff'),
                ray([196, 291], [270, 307], [270, 291], black), ray([196, 291], [270, 275], [270, 291], '#fff'),
                { type: 'circle', z: 9, shape: { cx: 339, cy: 291, r: 67.5 }, style: { fill: '#fff', stroke: black, lineWidth: 10 } },
                label('N', 339, 127, 50, 'normal', 'center'),
                label('S', 339, 494, 50, 'normal', 'center'),
                label('W', 162, 309, 50, 'normal', 'center'),
                label('E', 511, 309, 50, 'normal', 'center')
            ].concat(swatchBorders)
        };
        chart.setOption(option);
    </script>
</body>

</html>
